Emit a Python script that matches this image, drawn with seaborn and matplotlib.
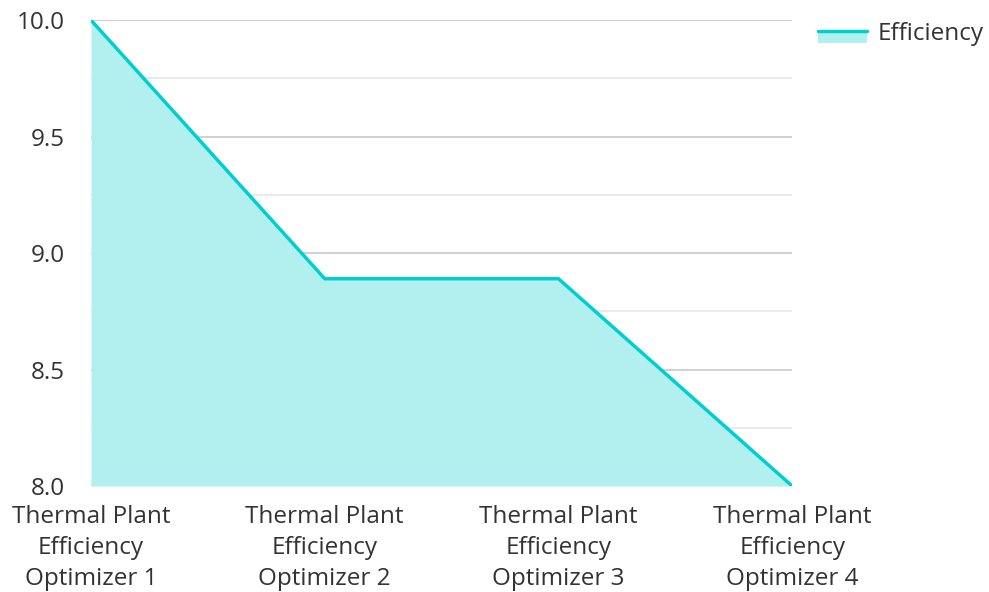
import numpy as np
import pandas as pd
import seaborn as sns
import matplotlib.pyplot as plt
from matplotlib.patches import Rectangle
from matplotlib.lines import Line2D
from matplotlib.legend_handler import HandlerBase

# data
categories = ['Thermal Plant\nEfficiency\nOptimizer 1', 'Thermal Plant\nEfficiency\nOptimizer 2',
              'Thermal Plant\nEfficiency\nOptimizer 3', 'Thermal Plant\nEfficiency\nOptimizer 4']
efficiency = [10.0, 8.89, 8.89, 8.0]
y_ticks = [8.0, 8.5, 9.0, 9.5, 10.0]

line_color = '#00CED1'
fill_color = '#B2EFEF'
fs = 17.5

sns.set_style('white')
plt.rcParams['font.family'] = ['Open Sans', 'DejaVu Sans']

df = pd.DataFrame({'pos': np.arange(len(categories)), 'Efficiency': efficiency})

fig = plt.figure(figsize=(9.89, 5.92), dpi=100)
ax = fig.add_axes([0.092, 0.179, 0.709, 0.787])

# grid lines (minor lighter, major darker)
for v in np.arange(8.0, 10.01, 0.25):
    major = abs(v * 2 - round(v * 2)) < 1e-6
    ax.axhline(v, color='#c8c8c8' if major else '#e6e6e6', lw=1.2, zorder=0)

ax.fill_between(df['pos'], df['Efficiency'], 8.0, color=fill_color, lw=0, zorder=1)
sns.lineplot(data=df, x='pos', y='Efficiency', color=line_color, lw=2.5, ax=ax, zorder=3)

ax.set_xlim(0, len(categories) - 1)
ax.set_ylim(8.0, 10.0)
ax.set_yticks(y_ticks)
ax.set_yticklabels([f'{t:.1f}' for t in y_ticks])
ax.set_xticks(df['pos'])
ax.set_xticklabels(categories, linespacing=1.37)
ax.tick_params(axis='both', length=0, labelsize=fs, colors='#333333')
ax.tick_params(axis='x', pad=14)
ax.tick_params(axis='y', pad=19)
ax.set_xlabel('')
ax.set_ylabel('')
for s in ax.spines.values():
    s.set_visible(False)


class AreaHandler(HandlerBase):
    def create_artists(self, legend, orig_handle, x0, y0, width, height, fontsize, trans):
        rect = Rectangle((x0, y0 - height * 0.2), width, height * 0.7,
                         facecolor=fill_color, edgecolor='none', transform=trans)
        top = y0 + height * 0.5
        ln = Line2D([x0, x0 + width], [top, top], color=line_color, lw=2.5, transform=trans)
        return [rect, ln]


ax.legend([object()], ['Efficiency'], handler_map={object: AreaHandler()},
          loc='upper left', bbox_to_anchor=(1.037, 0.997), frameon=False, borderpad=0,
          borderaxespad=0, fontsize=fs, handlelength=2.0, handletextpad=0.45,
          labelcolor='#333333')

fig.savefig('out.png', dpi=100)
